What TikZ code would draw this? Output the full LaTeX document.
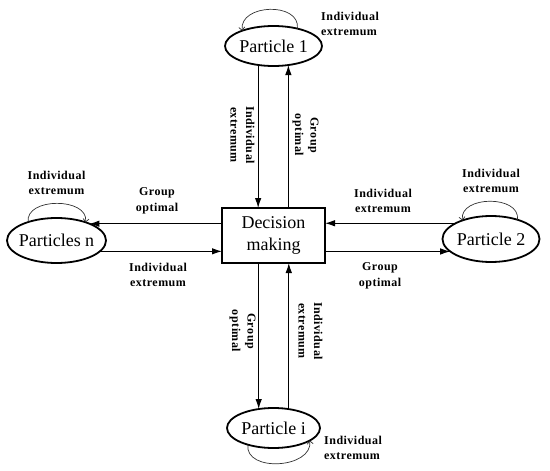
\documentclass[tikz,border=0pt]{standalone}
\usepackage{fontspec}
\setmainfont{Liberation Serif}
\newfontfamily\lblfont[LetterSpace=4]{Liberation Serif}
\usetikzlibrary{shapes.geometric,arrows.meta}
\begin{document}
\begin{tikzpicture}[x=1pt,y=-1pt,
  partic/.style={ellipse,draw,line width=1.8pt,inner sep=0pt,outer sep=0pt,font=\fontsize{18}{22}\selectfont},
  dbox/.style={rectangle,draw,line width=1.7pt,inner sep=0pt,outer sep=0pt,minimum width=103pt,minimum height=55pt,align=center,font=\fontsize{18}{22}\selectfont},
  arr/.style={line width=1pt,-{Latex[length=10pt,width=6.5pt]}},
  selfloop/.style={line width=0.7pt,draw=black!80,-{Straight Barb[length=3pt,width=6pt]}},
  lbl/.style={font=\lblfont\bfseries\fontsize{12}{15.5}\selectfont,align=center,inner sep=0pt}]
\useasboundingbox (0,0) rectangle (550,471);
% nodes
\node[dbox] (box) at (273.5,235.5) {Decision\\making};
\node[partic,minimum width=97pt,minimum height=40pt] (p1) at (273.5,46) {\makebox[0pt]{Particle 1}};
\node[partic,minimum width=93pt,minimum height=40pt] (pi) at (273.5,428) {\makebox[0pt]{Particle i}};
\node[partic,minimum width=99pt,minimum height=45pt] (pn) at (56.5,240.5) {\makebox[0pt]{Particles n}};
\node[partic,minimum width=97pt,minimum height=46pt] (p2) at (491,239) {\makebox[0pt]{Particle 2}};
% vertical connectors
\draw[arr] (p1.231.74) -- (p1.231.74 |- box.north);
\draw[arr] (p1.308.26 |- box.north) -- (p1.308.26);
\draw[arr] (pi.128.39 |- box.south) -- (pi.128.39);
\draw[arr] (pi.51.61) -- (pi.51.61 |- box.south);
% horizontal connectors
\draw[arr] (pn.27.7 -| box.west) -- (pn.27.7);
\draw[arr] (pn.-14.3) -- (pn.-14.3 -| box.west);
\draw[arr] (p2.156.6) -- (p2.156.6 -| box.east);
\draw[arr] (p2.197.1 -| box.east) -- (p2.197.1);
% self loops
\draw[selfloop] (p1.36.7) .. controls +(3,-27) and +(-3,-27) .. (p1.154.2);
\draw[selfloop] (pi.213.2) .. controls +(-3,28) and +(3,28) .. (pi.341.3);
\draw[selfloop] (pn.147.2) .. controls +(-3,-25) and +(3,-25) .. (pn.32.8);
\draw[selfloop] (p2.36.8) .. controls +(3,-25) and +(-3,-25) .. (p2.147.6);
% loop labels
\node[lbl,anchor=west,align=left] (l1) at (321,24) {Individual\\extremum};
\node[lbl,anchor=west,align=left] (li) at (324,448) {Individual\\extremum};
\node[lbl] (ln) at (56.5,183) {Individual\\extremum};
\node[lbl] (l2) at (491,181) {Individual\\extremum};
% horizontal labels
\node[lbl] (lnu) at (157,201) {Group\\optimal};
\node[lbl] (lnd) at (158,275) {Individual\\extremum};
\node[lbl] (l2u) at (383,201) {Individual\\extremum};
\node[lbl] (l2d) at (380,276) {Group\\optimal};
% vertical labels
\node[lbl,rotate=-90] (ltl) at (242.5,135) {Individual\\extremum};
\node[lbl,rotate=-90] (ltr) at (305.5,135) {Group\\optimal};
\node[lbl,rotate=-90] (lbl1) at (242.5,331) {Group\\optimal};
\node[lbl,rotate=-90] (lbr) at (310.5,331) {Individual\\extremum};
\end{tikzpicture}
\end{document}
